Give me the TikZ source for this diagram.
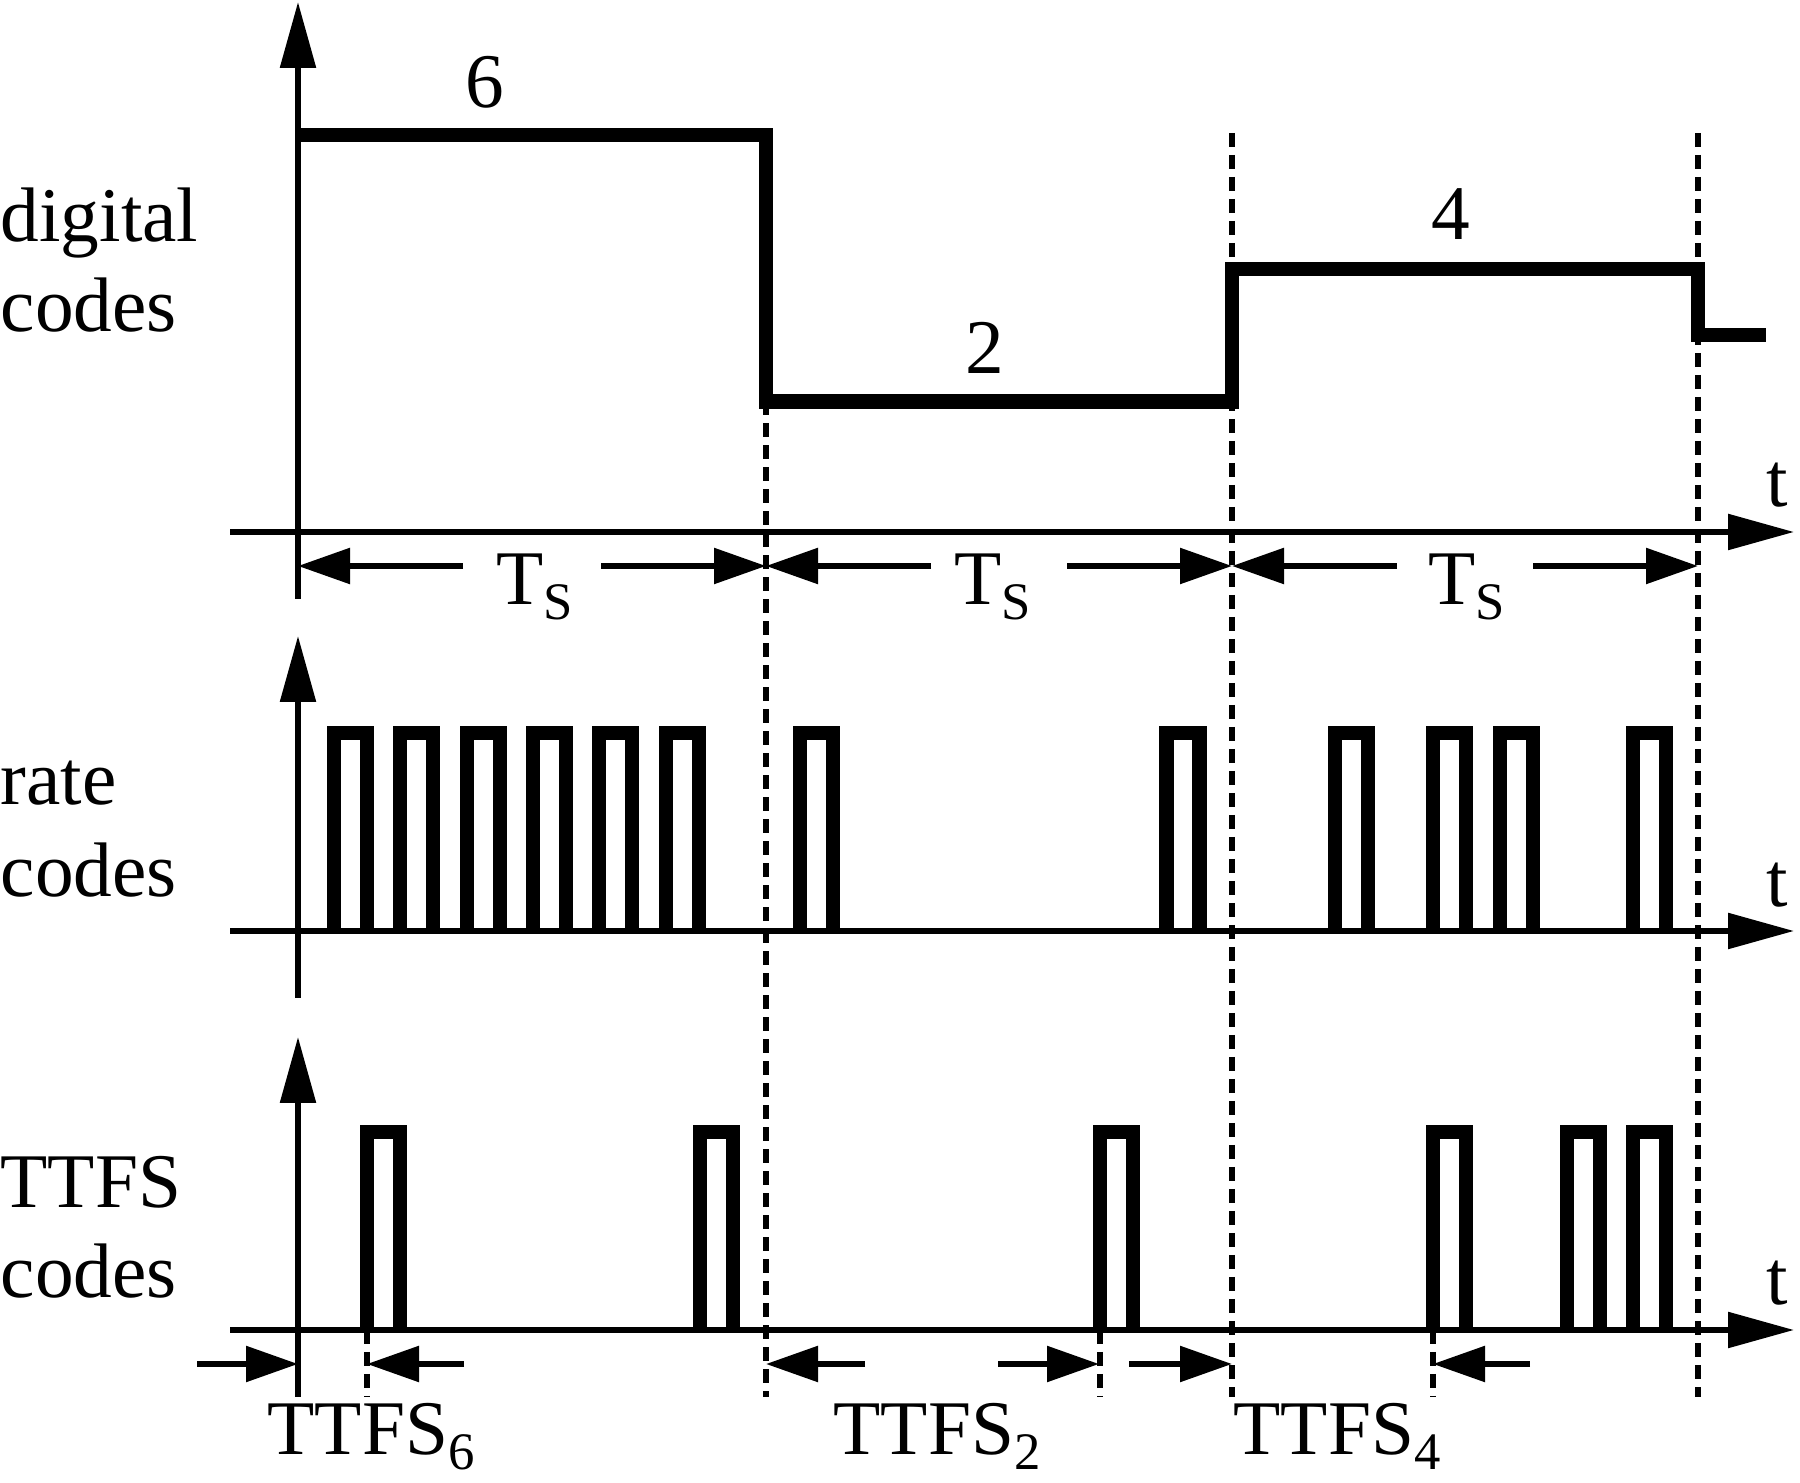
\documentclass[tikz,border=0pt]{standalone}
\usepackage{fontspec}
\setmainfont{Liberation Serif}
\usetikzlibrary{arrows.meta}
\newcommand{\lowsub}[1]{\raisebox{-0.15cm}{\fontsize{15}{15}\selectfont #1}}

\begin{document}
\begin{tikzpicture}[
  taxis/.style={line width=1.6pt, -{Triangle[length=0.66cm,width=0.35cm]}},
  dim/.style={line width=1.6pt, -{Triangle[length=0.52cm,width=0.35cm]}},
  sig/.style={line width=4pt},
  guide/.style={line width=1.5pt, dash pattern=on 0.14cm off 0.08cm},
  lbl/.style={font=\fontsize{22}{26}\selectfont, inner sep=0pt}]
\useasboundingbox (0,0) rectangle (18,14.83);

% axes
\draw[taxis] (2.30,9.51) -- (17.94,9.51);
\draw[taxis] (2.98,8.84) -- (2.98,14.81);
\draw[taxis] (2.30,5.52) -- (17.94,5.52);
\draw[taxis] (2.98,4.85) -- (2.98,8.47);
\draw[taxis] (2.30,1.53) -- (17.94,1.53);
\draw[taxis] (2.98,0.86) -- (2.98,4.46);

% digital codes
\draw[sig] (2.98,13.48) -- (7.66,13.48) -- (7.66,10.815) -- (12.32,10.815)
  -- (12.32,12.143) -- (16.98,12.143) -- (16.98,11.483) -- (17.66,11.483);
\node[lbl, anchor=base] (v6) at (4.85,13.75) {6};
\node[lbl, anchor=base] (v2) at (9.85,11.09) {2};
\node[lbl, anchor=base] (v4) at (14.51,12.43) {4};

% sample boundaries
\draw[guide] (7.66,10.815) -- (7.66,0.86);
\draw[guide] (12.32,13.5) -- (12.32,0.86);
\draw[guide] (16.98,13.5) -- (16.98,0.86);

% rate codes
\foreach \x in {3.34,4.00,4.67,5.33,5.99,6.66,8.00,11.665,13.35,14.33,15.00,16.33}
  \draw[sig] (\x,5.52) |- (\x+0.33,7.50) -- (\x+0.33,5.52);

% TTFS codes
\foreach \x in {3.67,7.00,11.00,14.33,15.67,16.33}
  \draw[sig] (\x,1.53) |- (\x+0.33,3.51) -- (\x+0.33,1.53);
\foreach \x in {3.67,11.00,14.33}
  \draw[guide] (\x,1.53) -- (\x,0.86);

% sample period
\foreach \l/\r in {2.98/7.66, 7.66/12.32, 12.32/16.98} {
  \draw[dim] (\l+1.65,9.17) -- (\l,9.17);
  \draw[dim] (\r-1.65,9.17) -- (\r,9.17);
}
\node[lbl, anchor=base] (ts1) at (5.35,8.78) {T\lowsub{S}};
\node[lbl, anchor=base] (ts2) at (9.93,8.78) {T\lowsub{S}};
\node[lbl, anchor=base] (ts3) at (14.67,8.78) {T\lowsub{S}};

% first spike times
\draw[dim] (1.97,1.19) -- (2.98,1.19);
\draw[dim] (4.64,1.19) -- (3.67,1.19);
\draw[dim] (8.65,1.19) -- (7.66,1.19);
\draw[dim] (9.98,1.19) -- (10.99,1.19);
\draw[dim] (11.29,1.19) -- (12.32,1.19);
\draw[dim] (15.30,1.19) -- (14.33,1.19);
\node[lbl, anchor=base west] (tt6) at (2.67,0.28) {TTFS\lowsub{6}};
\node[lbl, anchor=base west] (tt2) at (8.33,0.28) {TTFS\lowsub{2}};
\node[lbl, anchor=base west] (tt4) at (12.33,0.28) {TTFS\lowsub{4}};

% time labels
\node[lbl, anchor=base] (t1) at (17.77,9.76) {t};
\node[lbl, anchor=base] (t2) at (17.77,5.76) {t};
\node[lbl, anchor=base] (t3) at (17.77,1.78) {t};

% row names
\node[lbl, anchor=base west] (dig) at (0,12.41) {digital};
\node[lbl, anchor=base west] (digc) at (0,11.51) {codes};
\node[lbl, anchor=base west] (rate) at (0,6.78) {rate};
\node[lbl, anchor=base west] (ratec) at (0,5.86) {codes};
\node[lbl, anchor=base west] (ttfs) at (0,2.75) {TTFS};
\node[lbl, anchor=base west] (ttfsc) at (0,1.85) {codes};
\end{tikzpicture}
\end{document}
